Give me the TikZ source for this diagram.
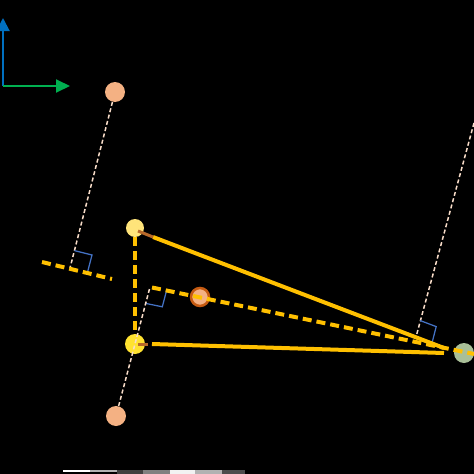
\documentclass[tikz,border=0pt]{standalone}
\usetikzlibrary{arrows.meta}
\definecolor{gold}{HTML}{FFC000}
\definecolor{paleyellow}{HTML}{FFE47A}
\definecolor{brightyellow}{HTML}{FFE230}
\definecolor{peach}{HTML}{F4B183}
\definecolor{rust}{HTML}{C55A11}
\definecolor{sage}{HTML}{A9BF98}
\definecolor{bone}{HTML}{F8DCC8}
\definecolor{ablue}{HTML}{0070C0}
\definecolor{agreen}{HTML}{00B050}
\definecolor{mblue}{HTML}{4472C4}
\definecolor{stub}{HTML}{B8692A}
\tikzset{
ball/.style={circle, inner sep=0pt, minimum size=0.4cm},
link/.style={gold, line width=0.08cm},
dlink/.style={link, dash pattern=on 0.18cm off 0.1cm},
ray/.style={bone, line width=0.03cm, dash pattern=on 0.08cm off 0.05cm},
rangle/.style={mblue, line width=0.025cm},
stubline/.style={stub, line width=0.06cm}
}

\begin{document}
\begin{tikzpicture}[x=0.02cm, y=-0.02cm]
	\useasboundingbox (0,0) rectangle (474,474);
	\fill[black] (0,0) rectangle (474,474);
	% axes
	\coordinate (o) at (3,86);
	\coordinate (yend) at (3,18);
	\coordinate (xend) at (70,86);
	\draw[ablue, line width=0.04cm, -{Triangle[length=0.26cm, width=0.26cm]}] (o) -- (yend);
	\draw[agreen, line width=0.04cm, -{Triangle[length=0.28cm, width=0.26cm]}] (o) -- (xend);

	% points
	\coordinate (foot1) at (70,268);
	\coordinate (foot2) at (152,287.5);
	\coordinate (foot3) at (416,337);
	\coordinate (edge) at (474,123);
	\coordinate (lstart) at (42,262);
	\coordinate (lend) at (112,279);
	\coordinate (ustart) at (153,237);
	\coordinate (bstart) at (152,344);
	\coordinate (tipu) at (444,348);
	\coordinate (tipl) at (444,353);
	\coordinate (mend) at (474,354);

	\node[ball, fill=peach] (upperball) at (115,92) {};
	\node[ball, fill=peach] (lowerball) at (116,416) {};
	\node[ball, fill=peach, draw=rust, line width=0.05cm, minimum size=0.36cm] (ring) at (200,297) {};
	\node[ball, fill=sage] (endball) at (464,353) {};

	% thin lines and right angles
	\draw[ray] (upperball) -- (foot1);
	\draw[ray] (edge) -- (foot3);
	\draw[rangle] (74.5,250.6) -- (92,255) -- (87.5,272.3);
	\draw[rangle] (145.7,303.4) -- (162.3,306.8) -- (166.6,290.4);
	\draw[rangle] (420.3,320.6) -- (436.2,326.6) -- (432,343);

	% yellow links
	\draw[dlink] (lstart) -- (lend);
	\draw[link] (ustart) -- (tipu);
	\draw[link] (bstart) -- (tipl);
	\draw[dlink] (foot2) -- (mend);

	\node[ball, fill=paleyellow, minimum size=0.36cm] (topjoint) at (135,228) {};
	\node[ball, fill=brightyellow] (lowjoint) at (135,344) {};
	\draw[dlink] (topjoint) -- (lowjoint);
	\draw[ray] (lowerball) -- (150,287);
	\draw[stubline] (138,231) -- (ustart);
	\draw[stubline] (138,344) -- (148,344);

	% scale bar
	\fill[white] (63,469.5) rectangle (90,471.5);
	\fill[gray!60] (90,469.5) rectangle (117,471.5);
	\fill[gray!50!black] (117,469.5) rectangle (143,474);
	\fill[gray] (143,469.5) rectangle (170,474);
	\fill[gray!10] (170,469.5) rectangle (195,474);
	\fill[gray!60] (195,469.5) rectangle (222,474);
	\fill[gray!60!black] (222,469.5) rectangle (245,474);
\end{tikzpicture}
\end{document}
